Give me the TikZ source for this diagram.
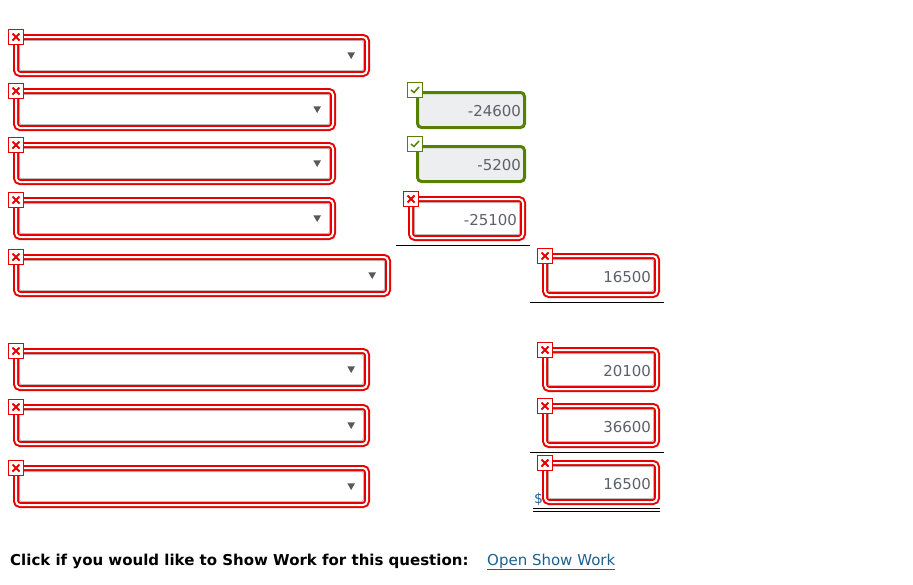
\documentclass[tikz,border=0pt]{standalone}
\usepackage{fontspec}
\setmainfont{DejaVu Sans}
\usetikzlibrary{positioning,shapes.geometric}
\definecolor{wrongred}{HTML}{E60000}
\definecolor{rightgreen}{HTML}{558000}
\definecolor{fieldgrey}{HTML}{BDBDBD}
\definecolor{numgrey}{HTML}{5C6068}
\definecolor{okfill}{HTML}{EDEEF0}
\definecolor{linkblue}{HTML}{1F5F8C}
\tikzset{
  wrongfield/.style={draw=wrongred,double=white,line width=2pt,double distance=2pt,rounded corners=4pt,inner sep=6pt,
    path picture={\draw[fieldgrey,line width=1pt,rounded corners=2pt] ([shift={(3.5pt,-3.5pt)}]path picture bounding box.north west) rectangle ([shift={(-3.5pt,3.5pt)}]path picture bounding box.south east);}},
  selectbox/.style={wrongfield,minimum height=37pt},
  numbox/.style={wrongfield,minimum height=39pt,text width=100pt,text height=14pt,align=right,text=numgrey,font=\fontsize{15}{18}\selectfont},
  okbox/.style={draw=rightgreen,line width=3pt,fill=okfill,rounded corners=4pt,minimum height=35pt,inner sep=3.5pt,text width=100pt,text height=13pt,align=right,text=numgrey,font=\fontsize{15}{18}\selectfont},
  caret/.style={regular polygon,regular polygon sides=3,shape border rotate=180,fill=black!65,inner sep=0pt,minimum size=9pt,yshift=1pt},
  wrongmark/.style={draw=wrongred,line width=1.2pt,fill=white,minimum size=15pt,inner sep=0pt,
    path picture={\draw[wrongred,line width=2pt] ([shift={(-3.5pt,-3.5pt)}]path picture bounding box.center) -- ([shift={(3.5pt,3.5pt)}]path picture bounding box.center) ([shift={(-3.5pt,3.5pt)}]path picture bounding box.center) -- ([shift={(3.5pt,-3.5pt)}]path picture bounding box.center);}},
  okmark/.style={draw=rightgreen,line width=1pt,fill=white,minimum size=15pt,inner sep=0pt,
    path picture={\draw[rightgreen,line width=1.5pt] ([shift={(-4pt,0pt)}]path picture bounding box.center) -- ([shift={(-1pt,-2.5pt)}]path picture bounding box.center) -- ([shift={(4pt,3pt)}]path picture bounding box.center);}},
  sumline/.style={draw=black,line width=1pt}
}
\begin{document}
\begin{tikzpicture}[x=1pt,y=-1pt]
      \useasboundingbox (0,0) rectangle (913,584);

      % left column
      \node[selectbox,minimum width=351pt] (s1) at (191.5,55.5) {};
      \node[caret,left=14pt of s1.east] (c1) {};
      \node[wrongmark] (m1) at (16,37) {};

      \node[selectbox,minimum width=317pt] (s2) at (174.5,109.5) {};
      \node[caret,left=14pt of s2.east] (c2) {};
      \node[wrongmark] (m2) at (16,91) {};

      \node[selectbox,minimum width=317pt] (s3) at (174.5,163.5) {};
      \node[caret,left=14pt of s3.east] (c3) {};
      \node[wrongmark] (m3) at (16,145) {};

      \node[selectbox,minimum width=317pt] (s4) at (174.5,218.5) {};
      \node[caret,left=14pt of s4.east] (c4) {};
      \node[wrongmark] (m4) at (16,200) {};

      \node[selectbox,minimum width=372pt] (s5) at (202,275.5) {};
      \node[caret,left=14pt of s5.east] (c5) {};
      \node[wrongmark] (m5) at (16,257) {};

      \node[selectbox,minimum width=351pt] (s6) at (191.5,369.5) {};
      \node[caret,left=14pt of s6.east] (c6) {};
      \node[wrongmark] (m6) at (16,351) {};

      \node[selectbox,minimum width=351pt] (s7) at (191.5,425.5) {};
      \node[caret,left=14pt of s7.east] (c7) {};
      \node[wrongmark] (m7) at (16,407) {};

      \node[selectbox,minimum width=351pt] (s8) at (191.5,486.5) {};
      \node[caret,left=14pt of s8.east] (c8) {};
      \node[wrongmark] (m8) at (16,468) {};

      % middle column
      \node[okbox] (n1) at (471,110) {-24600};
      \node[okmark] (k1) at (415,90) {};

      \node[okbox] (n2) at (471,164) {-5200};
      \node[okmark] (k2) at (415,144) {};

      \node[numbox] (n3) at (467,218.5) {-25100};
      \node[wrongmark] (m9) at (411,199) {};

      % right column
      \node[numbox] (t1) at (601,275.5) {16500};
      \node[wrongmark] (m10) at (545,256) {};

      \node[numbox] (t2) at (601,369.5) {20100};
      \node[wrongmark] (m11) at (545,350) {};

      \node[numbox] (t3) at (601,425.5) {36600};
      \node[wrongmark] (m12) at (545,406) {};

      \node[anchor=base west,inner sep=0pt,text=linkblue,font=\fontsize{14}{17}\selectfont] (dollar) at (534,503) {\$};
      \node[numbox] (t4) at (601,482.5) {16500};
      \node[wrongmark] (m13) at (545,463) {};

      % rules under the sums
      \coordinate (u1a) at (396,245);
      \coordinate (u1b) at (530,245);
      \draw[sumline] (u1a)--(u1b);
      \coordinate (u2a) at (530,302);
      \coordinate (u2b) at (664,302);
      \draw[sumline] (u2a)--(u2b);
      \coordinate (u3a) at (530,452);
      \coordinate (u3b) at (664,452);
      \draw[sumline] (u3a)--(u3b);
      \coordinate (u4a) at (533,508.5);
      \coordinate (u4b) at (660,508.5);
      \draw[sumline] (u4a)--(u4b);
      \coordinate (u5a) at (533,511.5);
      \coordinate (u5b) at (660,511.5);
      \draw[sumline] (u5a)--(u5b);

      % bottom line
      \node[anchor=base west,inner sep=0pt,font=\fontsize{15}{18}\selectfont\bfseries] (ask) at (10,565) {Click if you would like to Show Work for this question:};
      \node[anchor=base west,inner sep=0pt,text=linkblue,font=\fontsize{15}{18}\selectfont] (open) at (487,565) {\underline{Open Show Work}};
\end{tikzpicture}
\end{document}
